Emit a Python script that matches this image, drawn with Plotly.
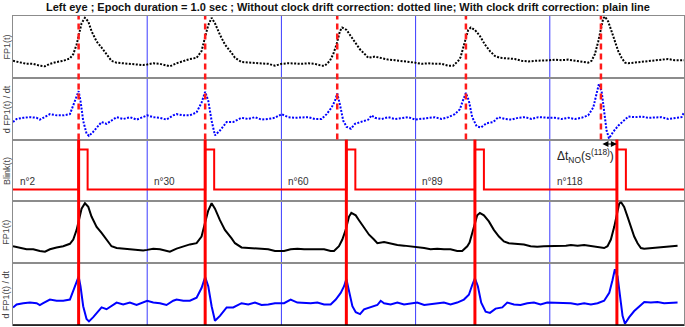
import plotly.graph_objects as go
from plotly.subplots import make_subplots

# ---------------- data (time in s over 5 concatenated 1-s epochs) ----------------
fp1_t = [0.000, 0.051, 0.101, 0.151, 0.200, 0.238, 0.275, 0.325, 0.374, 0.424, 0.449, 0.474, 0.489,
         0.511, 0.536, 0.561, 0.585, 0.623, 0.660, 0.697, 0.734, 0.772, 0.821, 0.871, 0.921, 0.970,
         1.000, 1.045, 1.095, 1.144, 1.169, 1.219, 1.269, 1.318, 1.368, 1.405, 1.430, 1.455, 1.480,
         1.505, 1.542, 1.579, 1.629, 1.654, 1.703, 1.753, 1.803, 1.852, 1.902, 1.952, 2.001,
         2.051, 2.101, 2.150, 2.200, 2.250, 2.299, 2.324, 2.361, 2.386, 2.411, 2.436, 2.453, 2.486,
         2.510, 2.548, 2.585, 2.622, 2.647, 2.697, 2.746, 2.796, 2.846, 2.895, 2.945, 2.997,
         3.044, 3.094, 3.144, 3.193, 3.243, 3.280, 3.318, 3.335, 3.355, 3.375, 3.392, 3.412, 3.442,
         3.479, 3.516, 3.554, 3.591, 3.628, 3.690, 3.740, 3.790, 3.839, 3.889, 3.939, 4.001,
         4.038, 4.088, 4.137, 4.187, 4.237, 4.286, 4.311, 4.336, 4.361, 4.381, 4.398, 4.411, 4.435,
         4.460, 4.485, 4.510, 4.535, 4.560, 4.584, 4.634, 4.684, 4.732, 4.783, 4.833, 4.882, 4.932,
         5.000]
fp1_v = [0.27, 0.24, 0.22, 0.22, 0.19, 0.18, 0.22, 0.25, 0.27, 0.31, 0.38, 0.54, 0.70,
         0.89, 0.98, 0.92, 0.76, 0.59, 0.49, 0.38, 0.27, 0.24, 0.23, 0.23, 0.22, 0.20,
         0.21, 0.23, 0.22, 0.19, 0.18, 0.23, 0.27, 0.30, 0.32, 0.43, 0.65, 0.86, 0.98,
         0.89, 0.70, 0.54, 0.40, 0.32, 0.25, 0.24, 0.23, 0.23, 0.22, 0.19, 0.22,
         0.23, 0.22, 0.22, 0.23, 0.22, 0.19, 0.19, 0.27, 0.38, 0.54, 0.76, 0.82, 0.78,
         0.70, 0.57, 0.46, 0.38, 0.32, 0.34, 0.31, 0.29, 0.28, 0.27, 0.26, 0.24,
         0.22, 0.23, 0.22, 0.22, 0.19, 0.19, 0.27, 0.33, 0.49, 0.65, 0.78, 0.82, 0.78,
         0.68, 0.54, 0.43, 0.35, 0.32, 0.31, 0.30, 0.27, 0.26, 0.27, 0.27, 0.28,
         0.29, 0.28, 0.29, 0.27, 0.26, 0.24, 0.27, 0.38, 0.59, 0.81, 0.97, 1.00, 0.92,
         0.76, 0.59, 0.43, 0.32, 0.24, 0.23, 0.24, 0.26, 0.27, 0.27, 0.28, 0.30, 0.28,
         0.28]

dfp1_t = [0.000, 0.027, 0.076, 0.126, 0.176, 0.200, 0.225, 0.275, 0.325, 0.374, 0.424, 0.449, 0.474,
          0.489, 0.503, 0.523, 0.548, 0.566, 0.598, 0.635, 0.660, 0.697, 0.734, 0.772, 0.821, 0.871,
          0.921, 0.970, 1.000, 1.045, 1.095, 1.144, 1.194, 1.219, 1.269, 1.318, 1.368, 1.405, 1.432,
          1.455, 1.480, 1.505, 1.542, 1.592, 1.641, 1.703, 1.753, 1.803, 1.852, 1.902, 1.952, 2.001,
          2.051, 2.101, 2.150, 2.200, 2.250, 2.299, 2.337, 2.374, 2.399, 2.416, 2.436, 2.461, 2.486,
          2.518, 2.548, 2.597, 2.647, 2.672, 2.697, 2.746, 2.796, 2.846, 2.895, 2.945, 2.997,
          3.044, 3.094, 3.144, 3.193, 3.243, 3.293, 3.330, 3.355, 3.375, 3.397, 3.422, 3.455, 3.487,
          3.529, 3.579, 3.616, 3.666, 3.715, 3.765, 3.815, 3.864, 3.914, 3.964, 4.001,
          4.038, 4.088, 4.137, 4.187, 4.237, 4.286, 4.324, 4.348, 4.366, 4.386, 4.406, 4.423, 4.441,
          4.473, 4.510, 4.548, 4.585, 4.634, 4.684, 4.733, 4.783, 4.833, 4.882, 4.932, 4.982, 5.000]
dfp1_v = [0.28, 0.33, 0.35, 0.36, 0.35, 0.32, 0.35, 0.41, 0.39, 0.39, 0.41, 0.55, 0.71,
          0.79, 0.63, 0.30, 0.09, 0.05, 0.12, 0.22, 0.28, 0.25, 0.30, 0.36, 0.33, 0.36,
          0.32, 0.36, 0.39, 0.36, 0.35, 0.32, 0.39, 0.41, 0.39, 0.39, 0.44, 0.60, 0.78,
          0.63, 0.30, 0.06, 0.14, 0.28, 0.28, 0.35, 0.33, 0.36, 0.32, 0.33, 0.35, 0.41,
          0.36, 0.35, 0.35, 0.36, 0.33, 0.33, 0.41, 0.52, 0.63, 0.75, 0.57, 0.30, 0.20,
          0.17, 0.25, 0.28, 0.32, 0.39, 0.35, 0.33, 0.36, 0.33, 0.35, 0.36, 0.32,
          0.33, 0.35, 0.36, 0.33, 0.36, 0.41, 0.49, 0.65, 0.76, 0.63, 0.36, 0.21, 0.19,
          0.26, 0.28, 0.36, 0.33, 0.32, 0.35, 0.36, 0.33, 0.36, 0.35, 0.35,
          0.35, 0.33, 0.35, 0.33, 0.35, 0.39, 0.52, 0.73, 0.91, 0.79, 0.47, 0.14, 0.01,
          0.12, 0.22, 0.30, 0.37, 0.36, 0.37, 0.35, 0.36, 0.36, 0.33, 0.35, 0.36, 0.44]

epoch_start = [0, 1, 2, 3, 4]
blink_labels = ["n°2", "n°30", "n°60", "n°89", "n°118"]
blink_uncorrected = [0.489, 1.432, 2.416, 3.375, 4.381]   # dashed lines
blink_corrected = [0.489, 1.432, 2.484, 3.442, 4.500]     # plain lines
blink_duration = 0.067
epoch_boundaries = [1, 2, 3, 4]

# ---------------- derived series ----------------
shifts = [c - u for c, u in zip(blink_corrected, blink_uncorrected)]


def corrected(ts, vs):
    ox, oy = [], []
    for k, s in zip(epoch_start, shifts):
        for t, v in zip(ts, vs):
            tt = t + s
            if k <= tt <= k + 1 and (tt < k + 1 or k == 4):
                ox.append(tt)
                oy.append(v)
    return ox, oy


fp1c_t, fp1c_v = corrected(fp1_t, fp1_v)
dfp1c_t, dfp1c_v = corrected(dfp1_t, dfp1_v)

bx, by = [0], [0]
for tb in blink_corrected:
    bx += [tb, tb, tb + blink_duration, tb + blink_duration]
    by += [0, 1, 1, 0]
bx.append(5)
by.append(0)

# ---------------- figure ----------------
fig = make_subplots(rows=5, cols=1, shared_xaxes=True, vertical_spacing=0)

fig.add_trace(go.Scatter(x=fp1_t, y=fp1_v, mode="lines",
                         line=dict(color="black", width=2, dash="2px,1.5px")), row=1, col=1)
fig.add_trace(go.Scatter(x=dfp1_t, y=dfp1_v, mode="lines",
                         line=dict(color="#0000ff", width=2, dash="2px,1.5px")), row=2, col=1)
fig.add_trace(go.Scatter(x=bx, y=by, mode="lines",
                         line=dict(color="#ff0000", width=2)), row=3, col=1)
fig.add_trace(go.Scatter(x=fp1c_t, y=fp1c_v, mode="lines",
                         line=dict(color="black", width=2)), row=4, col=1)
fig.add_trace(go.Scatter(x=dfp1c_t, y=dfp1c_v, mode="lines",
                         line=dict(color="#0000ff", width=2)), row=5, col=1)

yranges = [[-0.01, 1.01], [-0.01, 1.01], [-0.3, 1.25], [-0.01, 1.01], [-0.01, 1.01]]
for i in range(5):
    fig.update_xaxes(range=[0, 5], showticklabels=False, showgrid=False, zeroline=False,
                     ticks="", showline=True, mirror=True, linecolor="#8c8c8c", linewidth=1,
                     automargin=False, row=i + 1, col=1)
    fig.update_yaxes(range=yranges[i], showticklabels=False, showgrid=False, zeroline=False,
                     ticks="", showline=True, mirror=True, linecolor="#8c8c8c", linewidth=1,
                     automargin=False, row=i + 1, col=1)

shapes = []
for b in epoch_boundaries:
    shapes.append(dict(type="line", xref="x", yref="paper", x0=b, x1=b, y0=0, y1=1,
                       line=dict(color="#3a3aff", width=1), layer="below"))
for t in blink_uncorrected:
    shapes.append(dict(type="line", xref="x", yref="paper", x0=t, x1=t, y0=0.6, y1=1,
                       line=dict(color="#ff1a1a", width=2.5, dash="6px,4px")))
for t in blink_corrected:
    shapes.append(dict(type="line", xref="x", yref="paper", x0=t, x1=t, y0=0, y1=0.6,
                       line=dict(color="#ff0000", width=3)))
shapes.append(dict(type="line", xref="paper", yref="paper", x0=0, x1=1, y0=0, y1=0,
                   line=dict(color="black", width=1.5)))

annotations = []
ylabels = ["FP1(t)", "d FP1(t) / dt", "Blink(t)", "FP1(t)", "d FP1(t) / dt"]
for i, lab in enumerate(ylabels):
    yc = 1 - (i + 0.5) / 5
    annotations.append(dict(text=lab, xref="paper", yref="paper", x=-0.0097, y=yc,
                            xanchor="center", yanchor="middle", textangle=-90, showarrow=False,
                            font=dict(family="Liberation Sans, Arial", size=9, color="#444")))
for k, lab in zip(epoch_start, blink_labels):
    annotations.append(dict(text=lab, xref="x3", yref="y3", x=k + 0.035, y=0.2,
                            xanchor="left", yanchor="middle", showarrow=False,
                            font=dict(family="Liberation Sans, Arial", size=10, color="#333")))
# delta-t double arrow for the last blink
annotations.append(dict(text="", xref="x3", yref="y3", axref="x3", ayref="y3",
                        x=blink_corrected[-1], y=1.14, ax=blink_uncorrected[-1], ay=1.14,
                        showarrow=True, arrowside="end+start", arrowhead=2, arrowsize=1,
                        arrowwidth=1.2, arrowcolor="black"))
annotations.append(dict(text="Δt<sub>NO</sub>(s<sup>(118)</sup>)", xref="x3", yref="y3",
                        x=blink_corrected[-1] - 0.01, y=0.84, xanchor="right", yanchor="middle",
                        showarrow=False,
                        font=dict(family="Liberation Sans, Arial", size=12, color="#222")))

fig.update_layout(
    width=685, height=327,
    margin=dict(l=13, r=1, t=16, b=2, autoexpand=False),
    paper_bgcolor="white", plot_bgcolor="white",
    showlegend=False,
    shapes=shapes, annotations=annotations,
    title=dict(text="<b>Left eye ; Epoch duration = 1.0 sec ; Without clock drift correction: dotted line; "
                    "With clock drift correction: plain line</b>",
               x=0.508, xanchor="center", y=1 - 7.5 / 327, yanchor="middle", yref="container",
               font=dict(family="Liberation Sans, Arial", size=11, color="#111")),
)

fig.write_html("out.html", config={"displayModeBar": False},
               post_script="document.body.style.margin='0px';")
